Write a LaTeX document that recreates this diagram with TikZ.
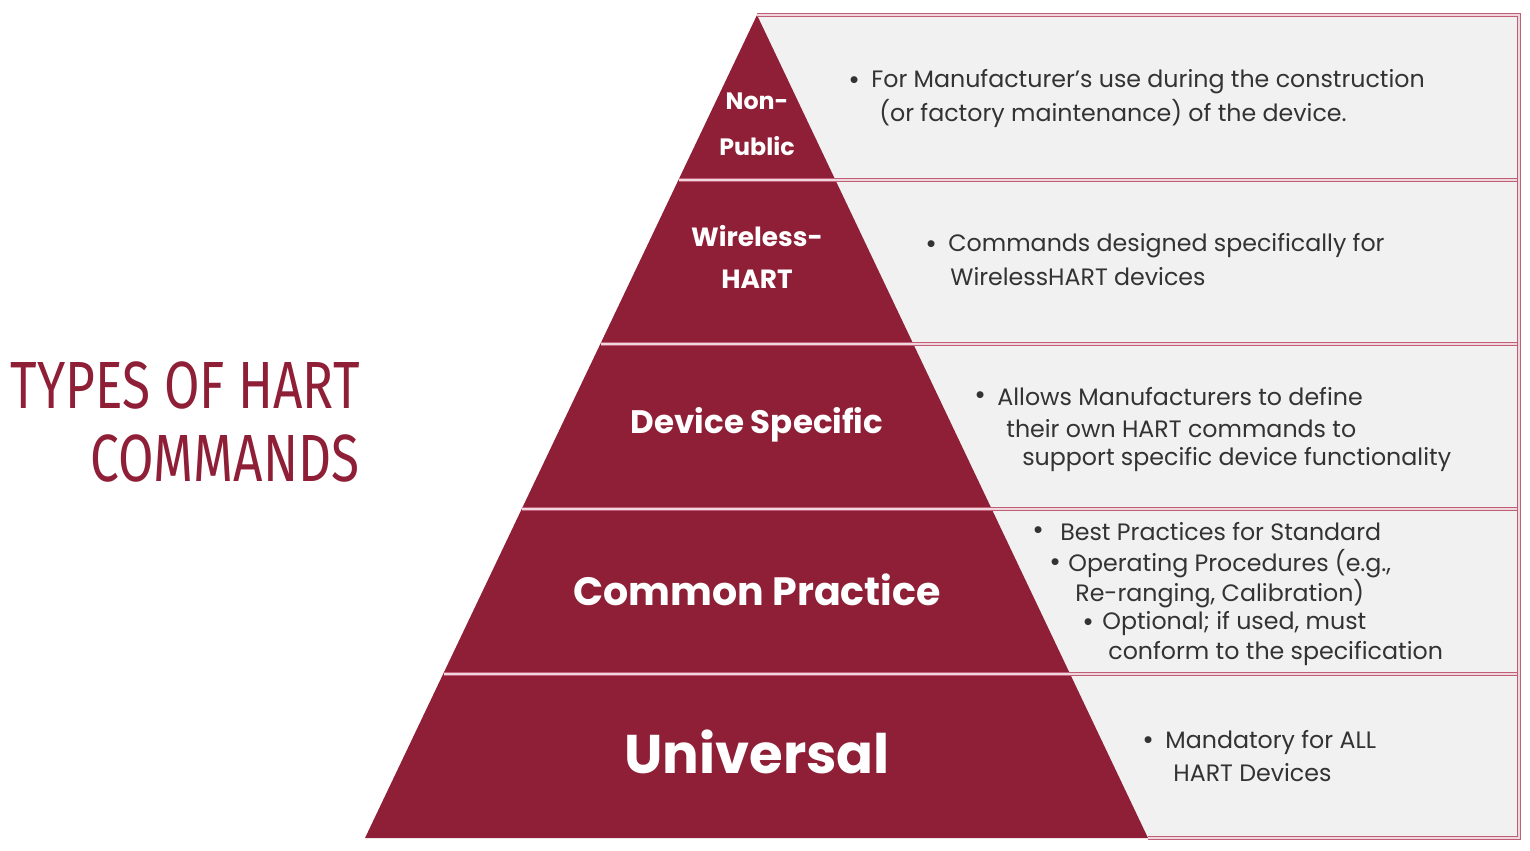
\documentclass[tikz,border=0pt]{standalone}
\usepackage{fontspec}
\setmainfont{Poppins}
\newfontfamily\titlefont{Fira Sans}
\usetikzlibrary{positioning}
\definecolor{hartred}{HTML}{8E1F37}
\definecolor{panelgray}{HTML}{F1F1F1}
\definecolor{rimpink}{HTML}{BF5E76}
\definecolor{bodytext}{HTML}{333333}
\tikzset{
  tier/.style    ={fill=hartred, draw=none},
  panel/.style   ={fill=panelgray, draw=none},
  rim/.style     ={draw=rimpink, line width=0.7pt,
                   double=white!75!rimpink, double distance=0.6pt},
  tierlbl/.style ={text=white, font=\bfseries, align=center, inner sep=0pt},
  item/.style    ={anchor=west, text=bodytext, inner sep=0pt,
                   font=\fontsize{13.5}{16}\selectfont},
  blt/.style     ={anchor=west, text=bodytext, inner sep=0pt,
                   font=\fontsize{16}{16}\selectfont},
  ttl/.style     ={anchor=east, text=hartred, inner sep=0pt,
                   font=\titlefont\fontsize{38}{40}\selectfont},
}

\begin{document}
\begin{tikzpicture}[x=0.02cm, y=-0.02cm]
\useasboundingbox (0,0) rectangle (1530,850);
% panels and pyramid
\fill[panel] (757,15) rectangle (1519,838);
\fill[tier] (757,15) -- (1148,838) -- (365,838) -- cycle;
\foreach \yy in {180,344,509,674}
  \draw[rim] ({757-(\yy-15)*0.4757},\yy) -- (1519,\yy);
\draw[rim] (757,15) -- (1519,15) -- (1519,838) -- (1148,838);
% title
\node[ttl] (ttl1) at (360,385) {\scalebox{0.77}[1]{TYPES OF HART}};
\node[ttl] (ttl2) at (360,458) {\scalebox{0.77}[1]{COMMANDS}};
% tier labels
\node[tierlbl, font=\bfseries\fontsize{13.5}{15}\selectfont] (np1) at (757,101) {Non-};
\node[tierlbl, font=\bfseries\fontsize{13.5}{15}\selectfont] (np2) at (757,146) {Public};
\node[tierlbl, font=\bfseries\fontsize{15}{17}\selectfont] (wh1) at (757,236) {Wireless-};
\node[tierlbl, font=\bfseries\fontsize{15}{17}\selectfont] (wh2) at (757,279) {HART};
\node[tierlbl, font=\bfseries\fontsize{18.5}{20}\selectfont] (ds) at (757,425) {Device Specific};
\node[tierlbl, font=\bfseries\fontsize{22.5}{25}\selectfont] (cp) at (757,590) {Common Practice};
\node[tierlbl, font=\bfseries\fontsize{31}{33}\selectfont] (un) at (757,752) {Universal};
% panel texts
\node[blt] (np-b) at (848,83) {\textbullet};
\node[item] (np-t1) at (871,82) {For Manufacturer’s use during the construction};
\node[item] (np-t2) at (879,113) {(or factory maintenance) of the device.};
\node[blt] (wh-b) at (925,247) {\textbullet};
\node[item] (wh-t1) at (948,246) {Commands designed specifically for};
\node[item] (wh-t2) at (950,277) {WirelessHART devices};
\node[blt] (ds-b) at (974,398) {\textbullet};
\node[item] (ds-t1) at (997,397) {Allows Manufacturers to define};
\node[item] (ds-t2) at (1006,429) {their own HART commands to};
\node[item] (ds-t3) at (1022,460) {support specific device functionality};
\node[blt] (cp-b1) at (1032,533) {\textbullet};
\node[item] (cp-t1) at (1060,532) {Best Practices for Standard};
\node[blt] (cp-b2) at (1049,565) {\textbullet};
\node[item] (cp-t2) at (1068,564) {Operating Procedures (e.g.,};
\node[item] (cp-t3) at (1075,594) {Re-ranging, Calibration)};
\node[blt] (cp-b3) at (1082,625) {\textbullet};
\node[item] (cp-t4) at (1102,624) {Optional; if used, must};
\node[item] (cp-t5) at (1108,654) {conform to the specification};
\node[blt] (un-b) at (1142,743) {\textbullet};
\node[item] (un-t1) at (1165,742) {Mandatory for ALL};
\node[item] (un-t2) at (1173,773) {HART Devices};
\end{tikzpicture}
\end{document}
